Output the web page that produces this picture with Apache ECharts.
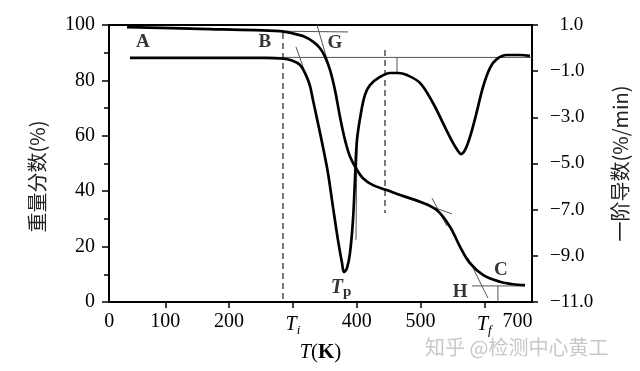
<!DOCTYPE html>
<html><head><meta charset="utf-8">
<script src="https://cdn.jsdelivr.net/npm/echarts@6/dist/echarts.min.js"></script>
<style>html,body{margin:0;padding:0;background:#fff}#c{width:640px;height:371px}</style>
</head><body><div id="c"></div>
<script>
// Temperature (K) and weight fraction (%) of the TG curve
const tgT = [40, 154, 280, 295.5, 315.8, 331.5, 342.5, 350.3, 358.2, 366, 373.8, 381.7, 389.5, 398.9, 409.9, 425.5, 447, 467.9, 499.2, 525.4, 546.2, 561.9, 577.6, 598.4, 624.6, 645, 663.8];
const tgW = [99.2, 98.6, 97.8, 97.2, 96.0, 94.0, 91.6, 88.6, 83.8, 76.5, 66.9, 58.5, 52.5, 48.3, 44.7, 42.2, 40.4, 38.6, 36.2, 33.2, 27.2, 20.0, 14.0, 9.7, 7.3, 6.4, 6.1];
// Temperature (K) and first derivative (%/min) of the DTG curve
const dtgT = [44.7, 154, 256, 283, 298.6, 311, 320.5, 326.8, 331.5, 339.3, 347.2, 355, 362.9, 370.7, 377, 380.1, 384.8, 389.5, 394.2, 397.3, 400.5, 406.7, 413, 420.8, 436.5, 452.2, 464.7, 478.8, 499.2, 519.6, 535.3, 551, 558.8, 563.5, 569.7, 577.6, 587, 598, 609, 620, 635.6, 656, 671.6];
const dtgV = [-0.42, -0.42, -0.42, -0.45, -0.54, -0.73, -1.17, -1.64, -2.25, -3.25, -4.29, -5.41, -6.89, -8.32, -9.31, -9.70, -9.53, -8.88, -7.45, -5.72, -3.98, -2.81, -2.03, -1.60, -1.25, -1.08, -1.08, -1.17, -1.51, -2.38, -3.25, -4.11, -4.46, -4.59, -4.42, -3.85, -2.90, -1.69, -0.86, -0.47, -0.30, -0.30, -0.34];
// x-axis tick positions and labels
const xTickValues = [100, 200, 300, 400, 500, 600];
const xLabelValues = [12, 100, 200, 300, 400, 500, 600, 652];
const xLabelTexts = ['0', '100', '200', '{it|T}{sub|i}', '400', '500', '{it|T}{sub|f}', '700'];
// construction lines (T, weight %)
const thinSegs = [
  [[264, 97.8], [386.4, 97.5]],
  [[337.8, 100], [356.6, 85.2]],
  [[256, 88.3], [675, 88.3]],
  [[304.9, 92.1], [320.5, 81.9]],
  [[400.5, 58.5], [398.9, 22.4]],
  [[463.2, 88.1], [463.2, 82.7]],
  [[467.9, 38.6], [549.4, 31.8]],
  [[518, 37.5], [541.5, 27.4]],
  [[574.5, 15.9], [605.8, 1.4]],
  [[580.7, 5.8], [663.8, 5.8]],
  [[621.4, 5.8], [621.4, 0]]
];
const dashSegs = [
  [[284.5, 97.1], [284.5, 0]],
  [[444.4, 91.0], [444.4, 32.1]]
];
// point labels (text, T, weight %)
const pointLabels = [
  ['A', 65, 93.9], ['B', 256, 93.9], ['G', 366, 93.5], ['C', 626, 11.6], ['H', 562, 3.6], ['{it|T}{sub|p}', 375.4, 5.2]
];

const serif = 'Liberation Serif';
const chart = echarts.init(document.getElementById('c'));
const series = [];
thinSegs.forEach(s => series.push({type: 'line', data: s, yAxisIndex: 0, symbol: 'none', silent: true,
  lineStyle: {color: '#555', width: 1}, z: 1}));
dashSegs.forEach(s => series.push({type: 'line', data: s, yAxisIndex: 0, symbol: 'none', silent: true,
  lineStyle: {color: '#222', width: 1.2, type: [6, 4]}, z: 1}));
series.push({type: 'line', name: 'TG', data: tgT.map((t, i) => [t, tgW[i]]), yAxisIndex: 0, symbol: 'none',
  smooth: 0.35, lineStyle: {color: '#000', width: 2.7}, z: 3});
series.push({type: 'line', name: 'DTG', data: dtgT.map((t, i) => [t, dtgV[i]]), yAxisIndex: 1, symbol: 'none',
  smooth: 0.35, lineStyle: {color: '#000', width: 2.7}, z: 3});
series.push({type: 'scatter', yAxisIndex: 0, symbolSize: 1, itemStyle: {color: 'rgba(0,0,0,0)'}, silent: true,
  data: pointLabels.map(p => ({value: [p[1], p[2]], name: p[0]})),
  label: {show: true, position: 'inside', formatter: p => p.name, color: '#000', fontFamily: serif,
    fontSize: 19, fontWeight: 'bold',
    rich: {it: {fontFamily: serif, fontSize: 20, fontStyle: 'italic', color: '#000'},
           sub: {fontFamily: serif, fontSize: 15, color: '#000', padding: [10, 0, 0, 0]}}}, z: 5});

const rich = {it: {fontFamily: serif, fontSize: 20, fontStyle: 'italic', color: '#000'},
              sub: {fontFamily: serif, fontSize: 13, fontStyle: 'italic', color: '#000', padding: [12, 0, 0, 0]},
              b: {fontFamily: serif, fontSize: 21, fontWeight: 'bold', color: '#000'},
              n: {fontFamily: serif, fontSize: 21, color: '#000'}};

chart.setOption({
  animation: false,
  backgroundColor: '#fff',
  grid: {left: 109, right: 108, top: 25, bottom: 69, show: true, borderColor: '#000', borderWidth: 2, backgroundColor: 'transparent'},
  xAxis: {type: 'value', min: 11.8, max: 674.8,
    name: '{it|T}{n|(}{b|K}{n|)}', nameLocation: 'middle', nameGap: 40,
    nameTextStyle: {rich: rich},
    axisLine: {show: true, lineStyle: {color: '#000', width: 2}},
    axisTick: {show: true, length: 6, customValues: xTickValues, lineStyle: {color: '#000', width: 1.5}},
    axisLabel: {customValues: xLabelValues, margin: 10, color: '#000', fontFamily: serif, fontSize: 20,
      formatter: v => { const i = xLabelValues.indexOf(v); return i >= 0 ? xLabelTexts[i] : ''; }, rich: rich},
    splitLine: {show: false}},
  yAxis: [
    {type: 'value', min: 0, max: 100, interval: 20, position: 'left',
      name: '重量分数(%)', nameLocation: 'middle', nameGap: 62, nameRotate: 90,
      nameTextStyle: {fontFamily: 'Noto Sans CJK SC', fontSize: 20, color: '#222', padding: [0, 26, 0, 0]},
      axisLine: {show: true, lineStyle: {color: '#000', width: 2}},
      axisTick: {show: true, length: 7, lineStyle: {color: '#000', width: 1.5}},
      minorTick: {show: true, splitNumber: 2, length: 5, lineStyle: {color: '#000', width: 1.5}},
      axisLabel: {margin: 14, color: '#000', fontFamily: serif, fontSize: 20},
      splitLine: {show: false}, minorSplitLine: {show: false}},
    {type: 'value', min: -11, max: 1, interval: 2, position: 'right',
      name: '一阶导数(%/min)', nameLocation: 'middle', nameGap: 78, nameRotate: 90,
      nameTextStyle: {fontFamily: 'Noto Sans CJK SC', fontSize: 20, color: '#222'},
      axisLine: {show: true, lineStyle: {color: '#000', width: 2}},
      axisTick: {show: true, length: 6, lineStyle: {color: '#000', width: 1.5}},
      axisLabel: {margin: 18, color: '#000', fontFamily: serif, fontSize: 19,
        formatter: v => (v < 0 ? '−' : '\u2007') + Math.abs(v).toFixed(1)},
      splitLine: {show: false}}
  ],
  graphic: [{type: 'text', left: 425, top: 337, silent: true,
    style: {text: '知乎 @检测中心黄工', fontFamily: 'Noto Sans CJK SC', fontSize: 20, fill: '#c8c8c8'}}],
  series: series
});
</script></body></html>
